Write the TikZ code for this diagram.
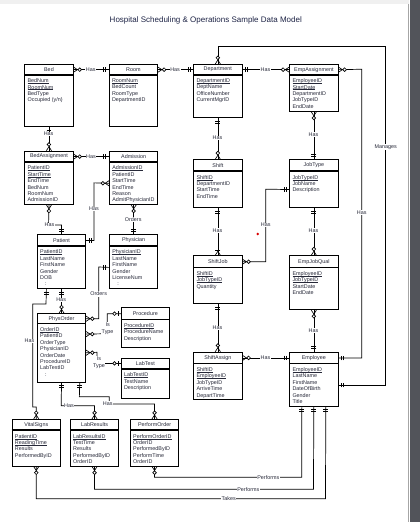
\documentclass[tikz,border=0pt]{standalone}
\usepackage{fontspec}
\setmainfont{Liberation Sans}
\usetikzlibrary{calc}
\definecolor{txt}{RGB}{38,40,56}
\definecolor{ttl}{RGB}{30,36,70}
\definecolor{pagedark}{RGB}{82,84,90}
\newcommand\ukey[1]{\setbox0\hbox{#1}\rlap{\rule[-0.8pt]{\wd0}{0.4pt}}\box0}
\tikzset{
 hdr/.style={draw=black, line width=0.8pt, inner sep=0pt, minimum width=48.3pt, anchor=north west, font=\fontsize{5.4}{6.4}\selectfont, text=txt},
 bod/.style={draw=black, line width=0.8pt, inner sep=0pt, minimum width=48.3pt, anchor=north west},
 attr/.style={inner sep=0pt, anchor=north west, align=left, font=\fontsize{5.4}{6.4}\selectfont, text=txt},
 conn/.style={draw=black, line width=0.7pt},
 sym/.style={draw=black, line width=0.65pt},
 lbl/.style={fill=white, inner sep=0.6pt, font=\fontsize{5.4}{7}\selectfont, text=txt, align=center},
}
\newcommand\ent[7]{%
 \node[hdr, minimum height={#4pt-#3pt}] (#1) at (#2,#3) {#6};
 \node[bod, minimum height={#5pt-#4pt}] (#1b) at (#2,#4) {};
 \draw[line width=1.3pt] (#1b.north west) -- (#1b.north east);
 \node[attr] (#1t) at ([shift={(3pt,-4pt)}]#1b.north west) {#7};
}
\newcommand\symMO[2]{\begin{scope}[shift={#1},rotate=#2,x=1pt,y=1pt]
 \draw[sym] (0,2.6)--(4,0)--(0,-2.6);
 \draw[sym,fill=white] (6.2,0) circle (1.8);
\end{scope}}
\newcommand\symOM[2]{\begin{scope}[shift={#1},rotate=#2,x=1pt,y=1pt]
 \draw[sym] (3.3,-2.4)--(3.3,2.4) (5.3,-2.4)--(5.3,2.4);
\end{scope}}
\newcommand\symOO[2]{\begin{scope}[shift={#1},rotate=#2,x=1pt,y=1pt]
 \draw[sym] (2.8,-2.4)--(2.8,2.4);
 \draw[sym,fill=white] (6.3,0) circle (1.8);
\end{scope}}
\newcommand\symOMany[2]{\begin{scope}[shift={#1},rotate=#2,x=1pt,y=1pt]
 \draw[sym] (0,2.6)--(4,0)--(0,-2.6);
 \draw[sym] (4.6,-2.4)--(4.6,2.4);
\end{scope}}
\begin{document}
\begin{tikzpicture}[x=1pt,y=-1pt]
\useasboundingbox (0,0) rectangle (420,522);
\fill[white] (0,0) rectangle (420,522);
\fill[gray!12] (0,0) rectangle (409,4);
\fill[pagedark] (410,0) rectangle (420,522);
\draw[gray!70, line width=1pt] (408.5,4) -- (408.5,522);

\node[font=\fontsize{8}{9}\selectfont, text=ttl] (title) at (205.8,20.3) {Hospital Scheduling \& Operations Sample Data Model};

% entities
\ent{bed}{24.4}{64}{74.5}{126}{Bed}{\ukey{BedNum}\\\ukey{RoomNum}\\BedType\\Occupied (y/n)}
\ent{room}{108.8}{64}{74.5}{126}{Room}{\ukey{RoomNum}\\BedCount\\RoomType\\DepartmentID}
\ent{dept}{193.3}{64}{74.5}{117}{Department}{\ukey{DepartmentID}\\DeptName\\OfficeNumber\\CurrentMgrID}
\ent{empa}{289.3}{64}{74.5}{111}{EmpAssignment}{\ukey{EmployeeID}\\\ukey{StartDate}\\DepartmentID\\JobTypeID\\EndDate}
\ent{beda}{24.4}{150.7}{161.7}{204}{BedAssignment}{\ukey{PatientID}\\\ukey{StartTime}\\EndTime\\BedNum\\RoomNum\\AdmissionID}
\ent{adm}{109.1}{150.7}{161.7}{204}{Admission}{\ukey{AdmissionID}\\PatientID\\StartTime\\EndTime\\Reason\\AdmitPhysicianID}
\ent{shift}{193.3}{159.3}{171}{207.3}{Shift}{\ukey{ShiftID}\\DepartmentID\\StartTime\\EndTime}
\ent{jobt}{289.3}{159.3}{171}{207.3}{JobType}{\ukey{JobTypeID}\\JobName\\Description}
\ent{pat}{37}{234.3}{245.7}{288.3}{Patient}{\ukey{PatientID}\\LastName\\FirstName\\Gender\\DOB\\\hspace*{5pt}:}
\ent{phys}{109.1}{234.3}{245.7}{288.3}{Physician}{\ukey{PhysicianID}\\LastName\\FirstName\\Gender\\LicenseNum\\\hspace*{5pt}:}
\ent{sjob}{193.3}{255.3}{267.3}{303.3}{ShiftJob}{\ukey{ShiftID}\\\ukey{JobTypeID}\\Quantity}
\ent{ejq}{289.3}{255.3}{267.3}{309.3}{EmpJobQual}{\ukey{EmployeeID}\\\ukey{JobTypeID}\\StartDate\\EndDate}
\ent{pord}{37}{313.3}{323.3}{381.7}{PhysOrder}{\ukey{OrderID}\\PatientID\\OrderType\\PhysicianID\\OrderDate\\ProcedureID\\LabTestID\\\hspace*{5pt}:}
\ent{proc}{120.8}{307.3}{319.3}{347}{Procedure}{\ukey{ProcedureID}\\ProcedureName\\Description}
\ent{labt}{120.8}{357.5}{368.5}{398}{LabTest}{\ukey{LabTestID}\\TestName\\Description}
\ent{sasg}{193.3}{351.7}{363.3}{399.3}{ShiftAssign}{\ukey{ShiftID}\\\ukey{EmployeeID}\\JobTypeID\\ArriveTime\\DepartTime}
\ent{emp}{289.3}{351.7}{363.3}{405.7}{Employee}{\ukey{EmployeeID}\\LastName\\FirstName\\DateOfBirth\\Gender\\Title}
\ent{vital}{11.7}{419}{430}{465.7}{VitalSigns}{\ukey{PatientID}\\\ukey{ReadingTime}\\Results\\PerformedByID}
\ent{labr}{70}{419}{430}{465.7}{LabResults}{\ukey{LabResultsID}\\TestTime\\Results\\PerformedByID\\OrderID}
\ent{perf}{130}{419}{430}{465.7}{PerformOrder}{\ukey{PerformOrderID}\\OrderID\\PerformedByID\\PerformTime\\OrderID}

% helper coordinates
\coordinate (e1) at ([xshift=-12pt]empb.south);
\coordinate (e2) at (empb.south);
\coordinate (e3) at ([xshift=12pt]empb.south);
\coordinate (pa2) at ([xshift=-15.15pt]patb.south);
\coordinate (pb2) at ([xshift=18.2pt]pordb.south);
\coordinate (po1) at ([yshift=-15.4pt]pord.east);
\coordinate (po2) at ([yshift=-34pt]pord.east);

% connectors
\draw[conn] (bed.east) -- (room.west);
\draw[conn] (room.east) -- (dept.west);
\draw[conn] (dept.east) -- (empa.west);
\draw[conn] (empa.east) -- (361.7,69.25) |- (emp.east);
\draw[conn] (dept.north) |- (385.7,46) |- (empb.east);
\draw[conn] (bedb.south) -- (beda.north);
\draw[conn] (beda.east) -- (adm.west);
\draw[conn] (deptb.south) -- (shift.north);
\draw[conn] (empab.south) -- (jobt.north);
\draw[conn] (shiftb.south) -- (sjob.north);
\draw[conn] (jobtb.west) -- (265.7,189.15) |- (sjob.east);
\draw[conn] (jobtb.south) -- (ejq.north);
\draw[conn] (sjobb.south) -- (sasg.north);
\draw[conn] (ejqb.south) -- (emp.north);
\draw[conn] (sasg.east) -- (emp.west);
\draw[conn] (e1) -- (301.7,477.3) -| (perfb.south);
\draw[conn] (e2) -- (313.45,489.3) -| (labrb.south);
\draw[conn] (e3) -- (325.45,498.7) -| (vitalb.south);
\draw[conn] (admb.west) -- (94,182.85) |- (pat.east);
\draw[conn] (admb.south) -- (phys.north);
\draw[conn] (bedab.south) -- (48.55,225) -| (pat.north);
\draw[conn] (physb.west) -- (98.7,267) |- (pord.east);
\draw[conn] (patb.south) -- (pord.north);
\draw[conn] (po1) -- (107.3,333.7) |- (proc.west);
\draw[conn] (po2) -- (97,352.3) |- (labt.west);
\draw[conn] (pa2) -- (46,304) -- (32.7,304) -- (32.7,407) -| (vital.north);
\draw[conn] (pordb.south) -- (61.15,405.7) -| (labr.north);
\draw[conn] (pb2) -- (79.35,396.7) -- (109.3,396.7) -- (109.3,404) -| (perf.north);

% end symbols
\symMO{(bed.east)}{0} \symOM{(room.west)}{180}
\symMO{(room.east)}{0} \symOM{(dept.west)}{180}
\symOM{(dept.east)}{0} \symMO{(empa.west)}{180}
\symMO{(empa.east)}{0} \symOM{(emp.east)}{0}
\symMO{(dept.north)}{90} \symOM{(empb.east)}{0}
\symOM{(bedb.south)}{270} \symMO{(beda.north)}{90}
\symMO{(beda.east)}{0} \symOM{(adm.west)}{180}
\symOM{(deptb.south)}{270} \symMO{(shift.north)}{90}
\symMO{(empab.south)}{270} \symOM{(jobt.north)}{90}
\symOM{(shiftb.south)}{270} \symOMany{(sjob.north)}{90}
\symOM{(jobtb.west)}{180} \symMO{(sjob.east)}{0}
\symOM{(jobtb.south)}{270} \symMO{(ejq.north)}{90}
\symOM{(sjobb.south)}{270} \symMO{(sasg.north)}{90}
\symMO{(ejqb.south)}{270} \symOM{(emp.north)}{90}
\symMO{(sasg.east)}{0} \symOM{(emp.west)}{180}
\symOM{(e1)}{270} \symMO{(perfb.south)}{270}
\symOM{(e2)}{270} \symMO{(labrb.south)}{270}
\symOM{(e3)}{270} \symMO{(vitalb.south)}{270}
\symMO{(admb.west)}{180} \symOM{(pat.east)}{0}
\symMO{(admb.south)}{270} \symOM{(phys.north)}{90}
\symMO{(bedab.south)}{270} \symOM{(pat.north)}{90}
\symOM{(physb.west)}{180} \symMO{(pord.east)}{0}
\symOM{(patb.south)}{270} \symMO{(pord.north)}{90}
\symMO{(po1)}{0} \symOO{(proc.west)}{180}
\symMO{(po2)}{0} \symOO{(labt.west)}{180}
\symOM{(pa2)}{270} \symMO{(vital.north)}{90}
\symOM{(pordb.south)}{270} \symMO{(labr.north)}{90}
\symOM{(pb2)}{270} \symMO{(perf.north)}{90}

% labels
\node[lbl] (l1) at (90.8,69.25) {Has};
\node[lbl] (l2) at (175.1,69.25) {Has};
\node[lbl] (l3) at (265.5,69.25) {Has};
\node[lbl] (l4) at (361.7,212.7) {Has};
\node[lbl] (l5) at (385.7,147) {Manages};
\node[lbl] (l6) at (48.6,134) {Has};
\node[lbl] (l7) at (91,156.2) {Has};
\node[lbl] (l8) at (217.45,138) {Has};
\node[lbl] (l9) at (313.45,134.7) {Has};
\node[lbl] (l10) at (217.45,230.7) {Has};
\node[lbl] (l11) at (265.7,225) {Has};
\node[lbl] (l12) at (313.45,230.7) {Has};
\node[lbl] (l13) at (217.45,328) {Has};
\node[lbl] (l14) at (313.45,330.7) {Has};
\node[lbl] (l15) at (265.5,357.5) {Has};
\node[lbl] (l16) at (268.3,477.3) {Performs};
\node[lbl] (l17) at (248.3,489.3) {Performs};
\node[lbl] (l18) at (228.7,498.7) {Takes};
\node[lbl] (l19) at (94,209) {Has};
\node[lbl] (l20) at (133.2,219.3) {Orders};
\node[lbl] (l21) at (49.5,225) {Has};
\node[lbl] (l22) at (98.7,294) {Orders};
\node[lbl] (l23) at (61.15,300) {Has};
\node[lbl] (l24) at (107.6,328.3) {Is\\Type};
\node[lbl] (l25) at (99,363) {Is\\Type};
\node[lbl] (l26) at (29.5,341) {Has};
\node[lbl] (l27) at (69,405.2) {Has};
\node[lbl] (l28) at (107.7,403.3) {Has};

\fill[red!85!black] (257.7,234) circle (1.4);
\end{tikzpicture}
\end{document}
